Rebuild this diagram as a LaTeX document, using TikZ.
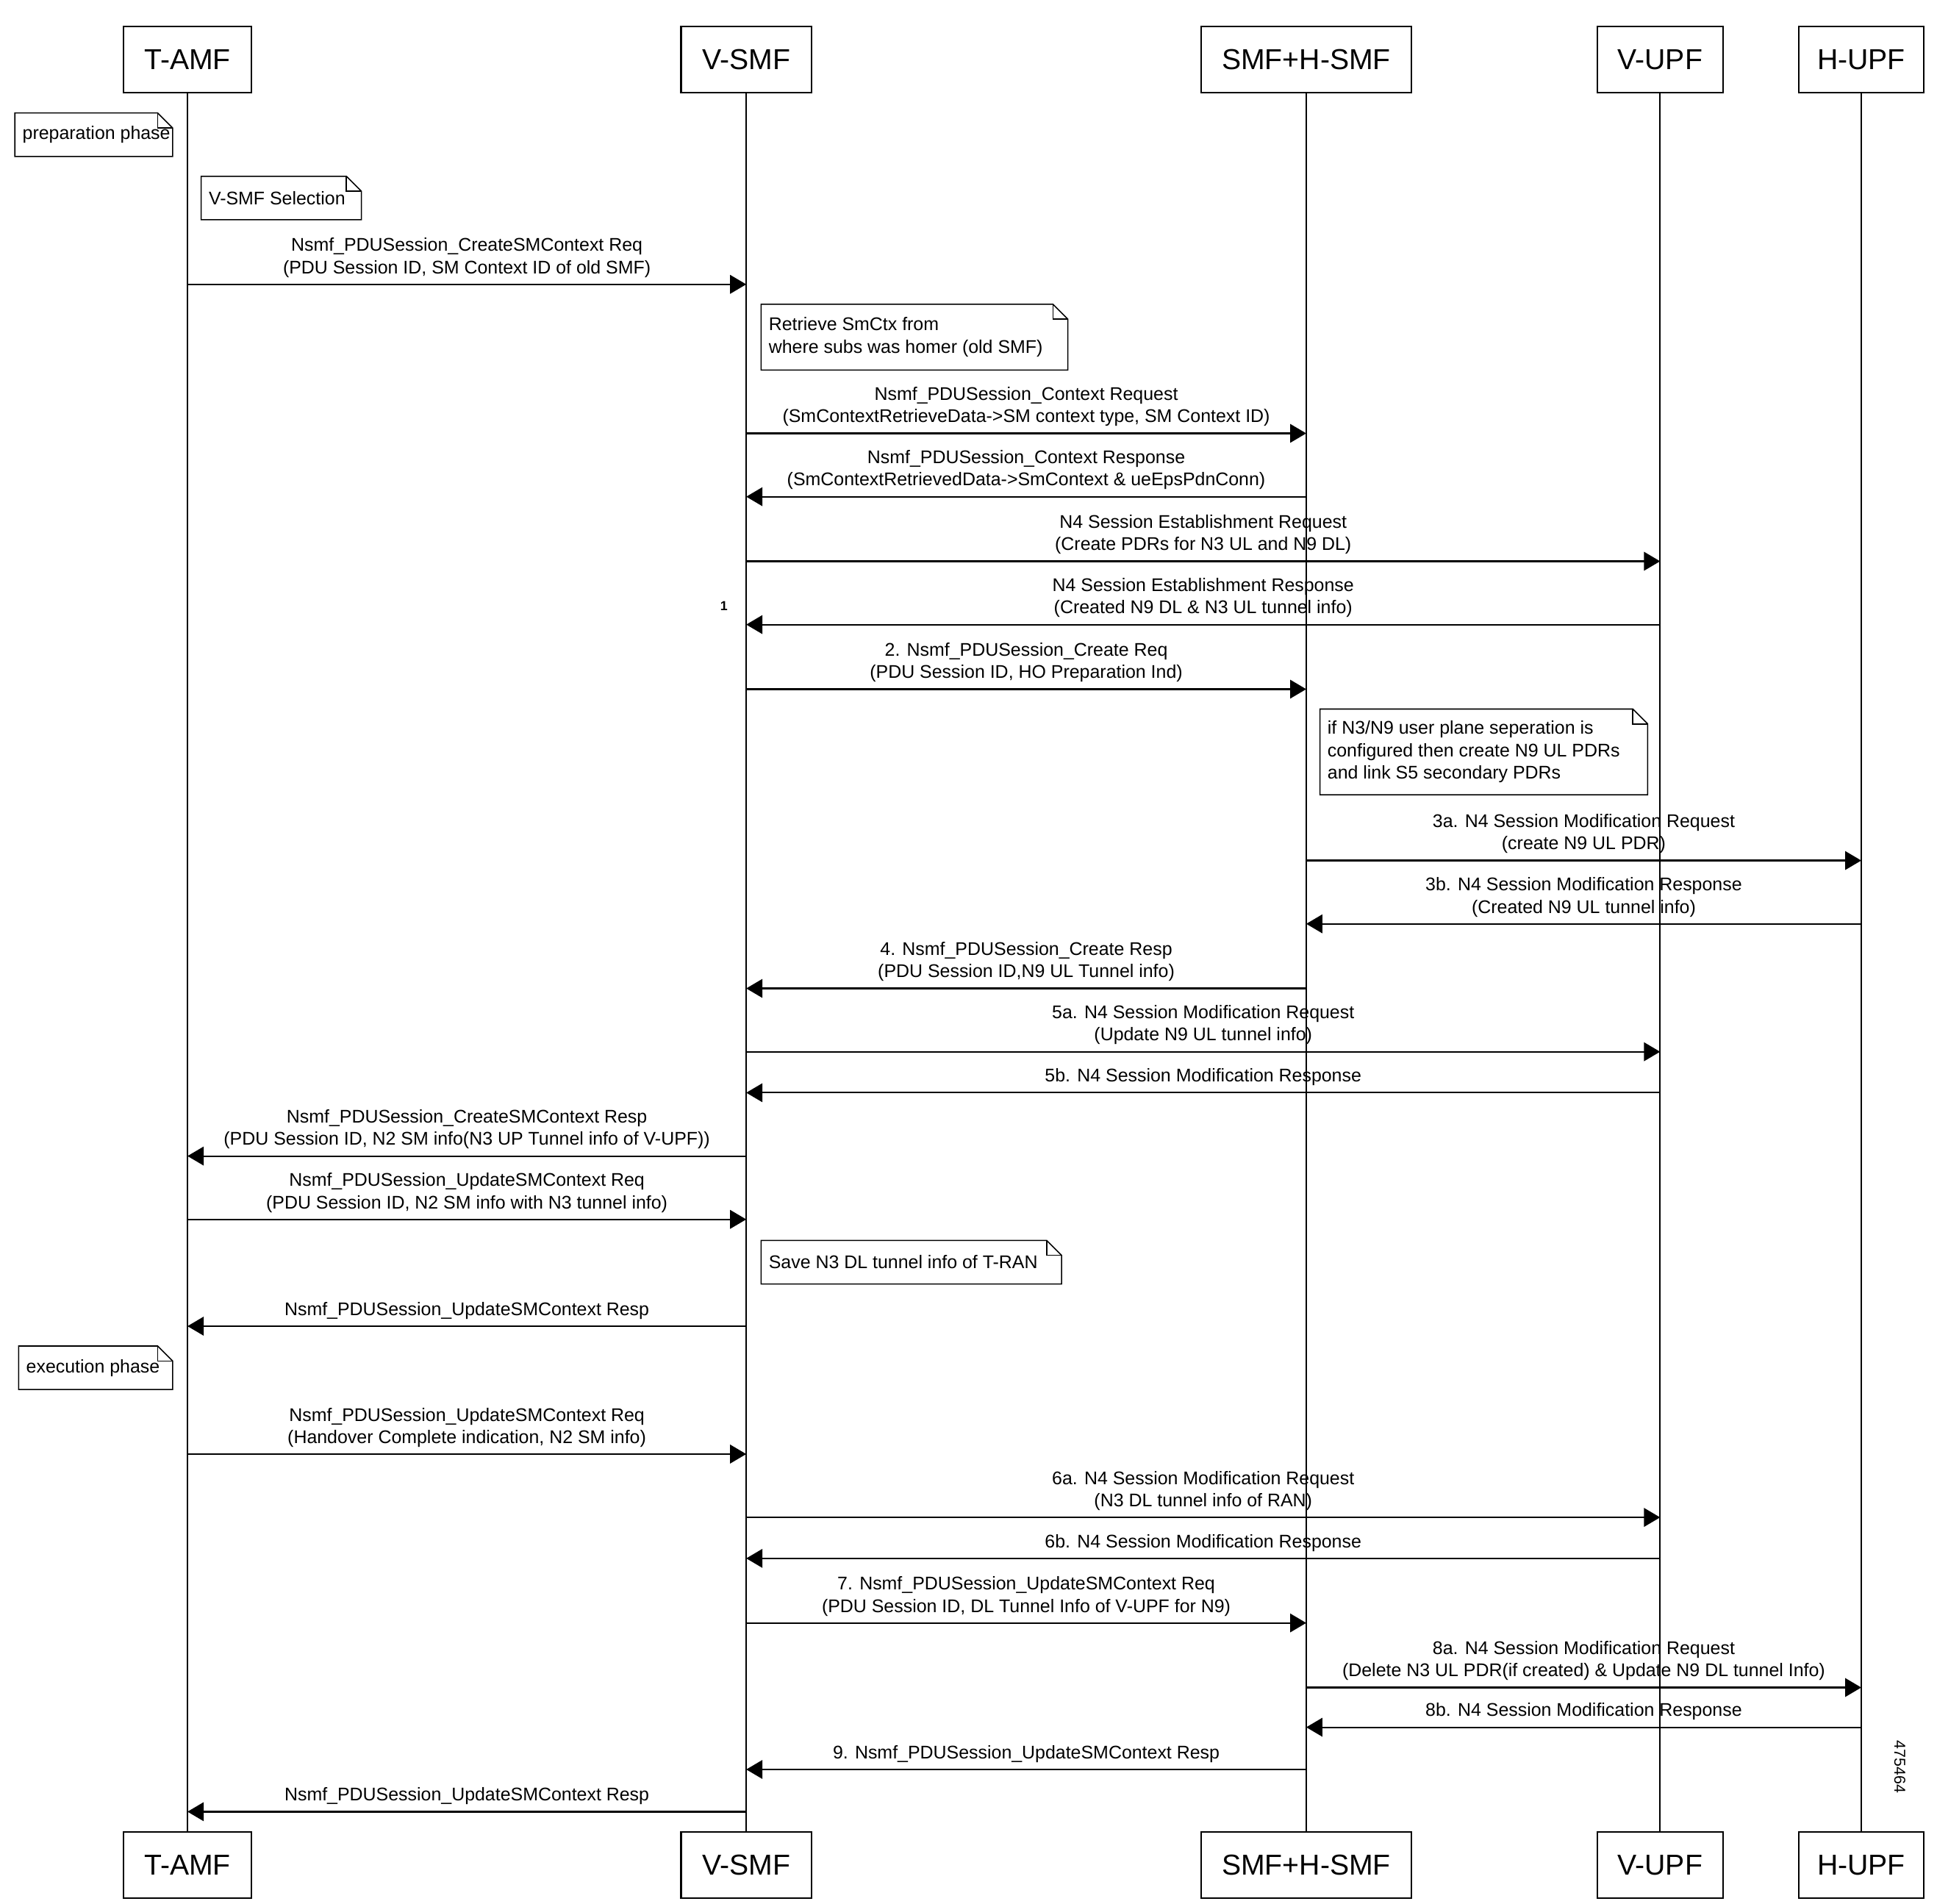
\documentclass[tikz,border=0pt]{standalone}
\usepackage{fontspec}
\setmainfont{Liberation Sans}
\usetikzlibrary{arrows.meta}

\tikzset{
  actor/.style={draw, line width=1.8pt, inner sep=0pt, minimum height=2.65cm,
    font=\fontsize{33}{38}\selectfont},
  msg/.style={line width=1.8pt, -{Triangle[length=0.65cm,width=0.75cm]}},
  lbl/.style={above=0.25cm, align=center, inner sep=0pt, font=\fontsize{21}{25.5}\selectfont},
  life/.style={line width=1.8pt}
}
% message between two lifelines at height y
\newcommand{\msgline}[4]{\draw[msg] (#2 |- 0,#1) -- node[lbl] {#4} (#3 |- 0,#1);}
% note with a folded corner
\newcommand{\notebox}[6]{%
  \draw[line width=1.3pt] (#2,#3) -- (#4-12,#3) -- (#4,#3+12) -- (#4,#5) -- (#2,#5) -- cycle;
  \draw[line width=1.3pt] (#4-12,#3) -- (#4-12,#3+12) -- (#4,#3+12);
  \node[anchor=west, align=left, inner sep=0pt, font=\fontsize{21}{25.5}\selectfont] (#1) at (#2+6,{(#3+#5)/2}) {#6};}

\begin{document}
\begin{tikzpicture}[x=0.05cm,y=-0.05cm]
\useasboundingbox (0,0) rectangle (1560,1533);

% actors, top and bottom
\node[actor, minimum width=5.15cm] (tamf) at (151,48) {T-AMF};
\node[actor, minimum width=5.25cm] (vsmf) at (601,48) {V-SMF};
\node[actor, minimum width=8.45cm] (hsmf) at (1052,48) {SMF+H-SMF};
\node[actor, minimum width=5.05cm] (vupf) at (1337,48) {V-UPF};
\node[actor, minimum width=5.05cm] (hupf) at (1499,48) {H-UPF};
\node[actor, minimum width=5.15cm] (tamfb) at (151,1502) {T-AMF};
\node[actor, minimum width=5.25cm] (vsmfb) at (601,1502) {V-SMF};
\node[actor, minimum width=8.45cm] (hsmfb) at (1052,1502) {SMF+H-SMF};
\node[actor, minimum width=5.05cm] (vupfb) at (1337,1502) {V-UPF};
\node[actor, minimum width=5.05cm] (hupfb) at (1499,1502) {H-UPF};
\foreach \a in {tamf,vsmf,hsmf,vupf,hupf}
  \draw[life] (\a.south) -- (\a b.north);

% notes
\notebox{prep}{12}{91}{139}{126}{preparation phase}
\notebox{sel}{162}{142}{291}{177}{V-SMF Selection}
\notebox{retr}{613}{245}{860}{298}{Retrieve SmCtx from\\ where subs was homer (old SMF)}
\notebox{sep}{1063}{571}{1327}{640}{if N3/N9 user plane seperation is\\ configured then create N9 UL PDRs\\ and link S5 secondary PDRs}
\notebox{save}{613}{999}{855}{1034}{Save N3 DL tunnel info of T-RAN}
\notebox{exec}{15}{1084}{139}{1119}{execution phase}

% messages
\msgline{229}{tamf}{vsmf}{Nsmf\_PDUSession\_CreateSMContext Req\\(PDU Session ID, SM Context ID of old SMF)}
\msgline{349}{vsmf}{hsmf}{Nsmf\_PDUSession\_Context Request\\(SmContextRetrieveData->SM context type, SM Context ID)}
\msgline{400}{hsmf}{vsmf}{Nsmf\_PDUSession\_Context Response\\(SmContextRetrievedData->SmContext \& ueEpsPdnConn)}
\msgline{452}{vsmf}{vupf}{N4 Session Establishment Request\\(Create PDRs for N3 UL and N9 DL)}
\msgline{503}{vupf}{vsmf}{N4 Session Establishment Response\\(Created N9 DL \& N3 UL tunnel info)}
\node[font=\fontsize{15}{18}\selectfont\bfseries] (one) at (583,488) {1};
\msgline{555}{vsmf}{hsmf}{2. Nsmf\_PDUSession\_Create Req\\(PDU Session ID, HO Preparation Ind)}
\msgline{693}{hsmf}{hupf}{3a. N4 Session Modification Request\\(create N9 UL PDR)}
\msgline{744}{hupf}{hsmf}{3b. N4 Session Modification Response\\(Created N9 UL tunnel info)}
\msgline{796}{hsmf}{vsmf}{4. Nsmf\_PDUSession\_Create Resp\\(PDU Session ID,N9 UL Tunnel info)}
\msgline{847}{vsmf}{vupf}{5a. N4 Session Modification Request\\(Update N9 UL tunnel info)}
\msgline{880}{vupf}{vsmf}{5b. N4 Session Modification Response}
\msgline{931}{vsmf}{tamf}{Nsmf\_PDUSession\_CreateSMContext Resp\\(PDU Session ID, N2 SM info(N3 UP Tunnel info of V-UPF))}
\msgline{982}{tamf}{vsmf}{Nsmf\_PDUSession\_UpdateSMContext Req\\(PDU Session ID, N2 SM info with N3 tunnel info)}
\msgline{1068}{vsmf}{tamf}{Nsmf\_PDUSession\_UpdateSMContext Resp}
\msgline{1171}{tamf}{vsmf}{Nsmf\_PDUSession\_UpdateSMContext Req\\(Handover Complete indication, N2 SM info)}
\msgline{1222}{vsmf}{vupf}{6a. N4 Session Modification Request\\(N3 DL tunnel info of RAN)}
\msgline{1255}{vupf}{vsmf}{6b. N4 Session Modification Response}
\msgline{1307}{vsmf}{hsmf}{7. Nsmf\_PDUSession\_UpdateSMContext Req\\(PDU Session ID, DL Tunnel Info of V-UPF for N9)}
\msgline{1359}{hsmf}{hupf}{8a. N4 Session Modification Request\\(Delete N3 UL PDR(if created) \& Update N9 DL tunnel Info)}
\msgline{1391}{hupf}{hsmf}{8b. N4 Session Modification Response}
\msgline{1425}{hsmf}{vsmf}{9. Nsmf\_PDUSession\_UpdateSMContext Resp}
\msgline{1459}{vsmf}{tamf}{Nsmf\_PDUSession\_UpdateSMContext Resp}

\node[rotate=-90, font=\fontsize{18}{22}\selectfont] (fig) at (1530,1423) {475464};
\end{tikzpicture}
\end{document}
